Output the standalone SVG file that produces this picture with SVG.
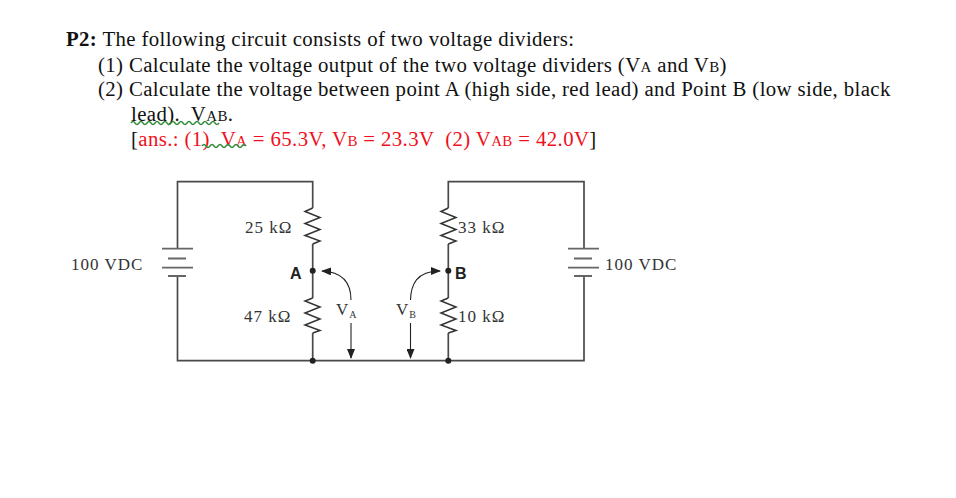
<svg xmlns="http://www.w3.org/2000/svg" width="956" height="498" viewBox="0 0 956 498">
<defs>
<marker id="ah" viewBox="0 0 10 8" refX="9" refY="4" markerWidth="10" markerHeight="8" markerUnits="userSpaceOnUse" orient="auto"><path d="M0 0L10 4L0 8Z" fill="#222"/></marker>
</defs>
<style>
.t{font-family:"Liberation Serif","Times New Roman",serif;font-size:20.8px;fill:#111;letter-spacing:.38px}
.r{fill:#f01020}
.s{font-size:15px}
.c{font-family:"Liberation Serif","Times New Roman",serif;font-size:17px;fill:#333;letter-spacing:1px}
.w{fill:none;stroke:#4a4a4a;stroke-width:1.7}
.z{fill:none;stroke:#333;stroke-width:1.5}
.p{stroke:#666;stroke-width:1.8}
.sq{fill:none;stroke:#2f8f3a;stroke-width:1.4}
.b{font-family:"Liberation Sans",Arial,sans-serif;font-size:16px;font-weight:bold;fill:#222}
.a{fill:none;stroke:#222;stroke-width:1.1}
</style>
<rect width="956" height="498" fill="#fff"/>
<g id="question">
<text class="t" x="66" y="46"><tspan font-weight="bold">P2:</tspan> The following circuit consists of two voltage dividers:</text>
<text class="t" x="98" y="72">(1) Calculate the voltage output of the two voltage dividers (V<tspan class="s">A</tspan> and V<tspan class="s">B</tspan>)</text>
<text class="t" x="98" y="96">(2) Calculate the voltage between point A (high side, red lead) and Point B (low side, black</text>
<text class="t" x="131" y="121" xml:space="preserve">lead).  V<tspan class="s">AB</tspan>.</text>
<text class="t" x="131" y="146" xml:space="preserve">[<tspan class="r">ans.: (1)  V<tspan class="s">A</tspan> = 65.3V, V<tspan class="s">B</tspan> = 23.3V  (2) V<tspan class="s">AB</tspan> = 42.0V</tspan>]</text>
<path class="sq" d="M131 123q2-3 4 0t4 0t4 0t4 0t4 0t4 0t4 0t4 0t4 0t4 0t4 0t4 0t4 0t4 0t4 0t4 0t4 0t4 0t4 0t4 0t4 0t4 0"/>
<path class="sq" d="M202 146q2-3 4 0t4 0t4 0t4 0t4 0t4 0t4 0t4 0t4 0t4 0t4 0"/>
</g>
<g id="connectors">
<path class="w" d="M177.500 248V181.700H312.700V208M312.700 244V298M312.700 333V360.700H177.500V276"/>
<path class="w" d="M312.700 360.700H448.300"/>
<path class="w" d="M448.300 208V181.700H584V248M584 276V360.700H448.300V333M448.300 298V244"/>
<path class="a" marker-end="url(#ah)" d="M351 300C351 285 345 272 322 271"/>
<path class="a" marker-end="url(#ah)" d="M351 323V358"/>
<path class="a" marker-end="url(#ah)" d="M410.500 300C411 285 416 271 440 271"/>
<path class="a" marker-end="url(#ah)" d="M410.500 323V358"/>
</g>
<g id="battery-left">
<path class="p" d="M162 248.700H193M168 258.500H186M162 267.700H193M168 276H186"/>
<text class="c" x="71" y="270">100 VDC</text>
</g>
<g id="battery-right">
<path class="p" d="M568 248.700H599M574 258.500H592M568 267.700H599M574 276H592"/>
<text class="c" x="605" y="270">100 VDC</text>
</g>
<g id="r25k">
<path class="z" d="M312.700 208L305 211.500L320 217.500L305 223.500L320 229.500L305 235.500L320 241L312.700 244"/>
<text class="c" x="245" y="233">25 kΩ</text>
</g>
<g id="r47k">
<path class="z" d="M312.700 298L305 301L320 307L305 313L320 319L305 325L320 330.500L312.700 333"/>
<text class="c" x="244" y="322">47 kΩ</text>
</g>
<g id="r33k">
<path class="z" d="M448.300 208L441 211.500L456 217.500L441 223.500L456 229.500L441 235.500L456 241L448.300 244"/>
<text class="c" x="458" y="233">33 kΩ</text>
</g>
<g id="r10k">
<path class="z" d="M448.300 298L441 301L456 307L441 313L456 319L441 325L456 330.500L448.300 333"/>
<text class="c" x="458" y="322">10 kΩ</text>
</g>
<g id="node-a">
<circle cx="312.700" cy="270.700" r="3" fill="#222"/>
<text class="b" x="290" y="279">A</text>
</g>
<g id="node-b">
<circle cx="448.300" cy="270.700" r="3" fill="#222"/>
<text class="b" x="455" y="279">B</text>
</g>
<g id="junctions">
<circle cx="312.700" cy="360.700" r="3" fill="#222"/>
<circle cx="448.300" cy="360.700" r="3" fill="#222"/>
</g>
<g id="va"><text class="c" x="336" y="315">V<tspan font-size="10" dy="3">A</tspan></text></g>
<g id="vb"><text class="c" x="396" y="315">V<tspan font-size="10" dy="3">B</tspan></text></g>
</svg>
